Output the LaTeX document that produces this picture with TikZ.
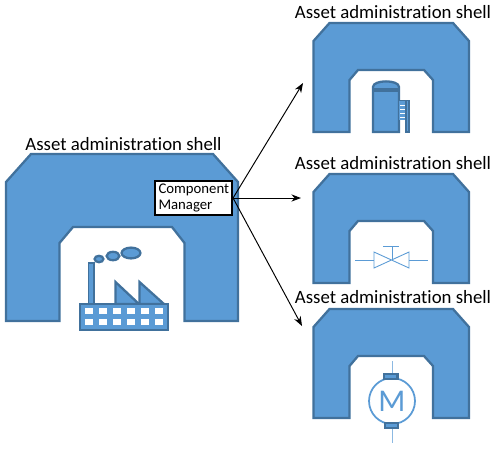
\documentclass[tikz,border=0pt]{standalone}
\usepackage{fontspec}
\setmainfont{Carlito}[Ligatures=NoCommon]
\usetikzlibrary{arrows.meta, positioning}
\definecolor{shellfill}{RGB}{91,155,213}
\definecolor{shelldraw}{RGB}{65,113,156}
\tikzset{
  shell/.style={draw=shelldraw, fill=shellfill, line width=1.3pt, line join=miter},
  thinpart/.style={draw=shellfill, line width=0.5pt},
  window/.style={fill=white, draw=none},
  shelltext/.style={font=\fontsize{10.7}{12}\selectfont, inner sep=0pt},
  cmbox/.style={rectangle, draw=black, fill=white, line width=1.2pt,
    minimum width=1.54cm, minimum height=0.68cm, inner xsep=2pt, inner ysep=0pt,
    text width=1.4cm, align=left, font=\fontsize{8.4}{9.6}\selectfont},
  arrow/.style={-Stealth, line width=0.55pt, color=black},
  pics/smallshell/.style={code={
    \draw[shell] (313.5,41) -- (329.5,23) -- (453,23) -- (469,41) -- (469,132) -- (433,132)
      -- (433,80) -- (424,70) -- (358,70) -- (349.5,80) -- (349.5,132) -- (313.5,132) -- cycle;
  }}
}

\begin{document}
\begin{tikzpicture}[x=0.02cm, y=-0.02cm]
  \useasboundingbox (0,0) rectangle (500,451);

  % Large shell
  \draw[shell] (6,182) -- (31,154) -- (213,154) -- (238,182) -- (238,321) -- (184.5,321)
    -- (184.5,243) -- (172,227) -- (73,227) -- (59.5,243) -- (59.5,321) -- (6,321) -- cycle;
  \node[shelltext] (lbig) at (123.5,144) {Asset administration shell};

  % Factory
  \draw[shell, line width=1pt] (88.5,304) rectangle (94,263);
  \draw[shell] (115.5,304) -- (115.5,282) -- (139,304) -- cycle;
  \draw[shell] (139.5,304) -- (139.5,282) -- (164,304) -- cycle;
  \draw[shell] (80,304) rectangle (168,330);
  \foreach \x in {85,99,113,127,141,155} {
    \fill[window] (\x,308) rectangle ++(8,6);
    \fill[window] (\x,319) rectangle ++(8,6);
  }
  \draw[shell] (99,259) ellipse [x radius=4.4, y radius=3.2];
  \draw[shell] (113,256) ellipse [x radius=6.4, y radius=4.2];
  \draw[shell] (131,253) ellipse [x radius=9.4, y radius=5.4];

  % Top shell with tank
  \pic at (0,0) {smallshell};
  \node[shelltext] (ltop) at (393,12) {Asset administration shell};
  \draw[shell] (373,132) -- (373,87) .. controls (373,79.5) and (399,79.5) .. (399,87) -- (399,132) -- cycle;
  \draw[shelldraw, line width=2pt] (373,90) -- (399,90);
  \fill[shellfill] (399,100) rectangle (405,120);
  \draw[shelldraw, line width=0.8pt] (399,100.5) -- (405,100.5);
  \foreach \y in {106,110,114,118} {
    \fill[window] (399.5,\y-1) rectangle (405,\y);
  }
  \draw[shell, line width=1pt] (406,100.5) rectangle (409,132);

  % Middle shell with valve
  \pic at (0,151) {smallshell};
  \node[shelltext] (lmid) at (393,163) {Asset administration shell};
  \draw[thinpart] (355,260) -- (374,260);
  \draw[thinpart] (374,252) -- (374,268) -- (409,252) -- (409,268) -- cycle;
  \draw[thinpart] (409,260) -- (428,260);
  \draw[thinpart] (392,260) -- (392,246);
  \draw[thinpart] (383,246) -- (399,246);

  % Bottom shell with motor
  \pic at (0,286) {smallshell};
  \node[shelltext] (lbot) at (393,297) {Asset administration shell};
  \draw[thinpart, draw=shellfill!70] (392,361) -- (392,373);
  \draw[thinpart, draw=shellfill!70] (392,428) -- (392,443);
  \node[circle, draw=shellfill, fill=white, line width=1pt, minimum size=0.92cm, inner sep=0pt,
    text=shellfill, font=\fontsize{18}{18}\selectfont] (motor) at (392,401) {M};
  \draw[shell] (384,374) rectangle (397.5,379);
  \draw[shell] (385,423) rectangle (398,428);

  % Component manager and links
  \node[cmbox] (cm) at (193.5,198) {Component\\Manager};
  \coordinate (ctop) at (303,83);
  \coordinate (cmid) at (301,198);
  \coordinate (cbot) at (302,326);
  \draw[arrow] (cm.east) -- (ctop);
  \draw[arrow] (cm.east) -- (cmid);
  \draw[arrow] (cm.east) -- (cbot);
\end{tikzpicture}
\end{document}
